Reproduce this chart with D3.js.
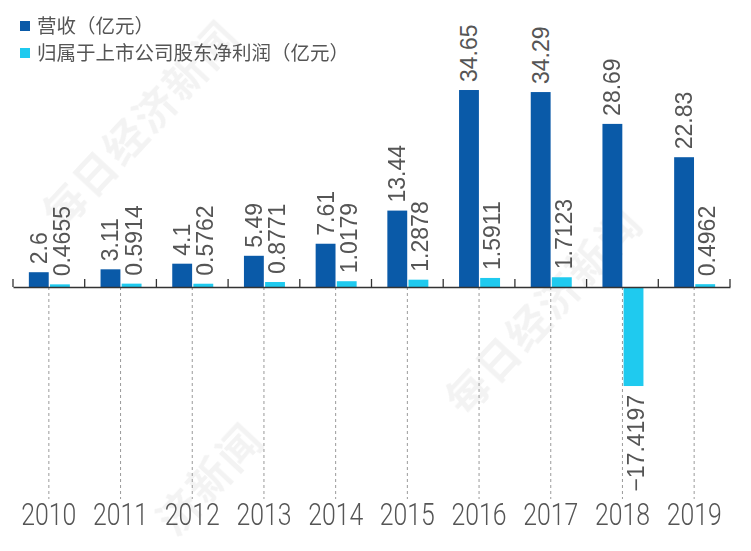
<!DOCTYPE html>
<html><head><meta charset="utf-8">
<script src="https://cdn.jsdelivr.net/npm/d3@7/dist/d3.min.js"></script>
<style>body{margin:0;background:#fff}svg{display:block}</style>
</head><body>
<svg id="chart" width="751" height="551"></svg>
<script>
const years = ["2010","2011","2012","2013","2014","2015","2016","2017","2018","2019"];
const revenue = [2.6, 3.11, 4.1, 5.49, 7.61, 13.44, 34.65, 34.29, 28.69, 22.83];
const netProfit = [0.4655, 0.5914, 0.5762, 0.8771, 1.0179, 1.2878, 1.5911, 1.7123, -17.4197, 0.4962];
const revenueLabels = ["2.6","3.11","4.1","5.49","7.61","13.44","34.65","34.29","28.69","22.83"];
const profitLabels = ["0.4655","0.5914","0.5762","0.8771","1.0179","1.2878","1.5911","1.7123","\u221217.4197","0.4962"];
const seriesNames = ["营收（亿元）","归属于上市公司股东净利润（亿元）"];
const colors = ["#0a5aa8","#1fcaef"];

const svg = d3.select("#chart");
const x = d3.scaleBand().domain(years).range([13, 730]).padding(0);
const y = d3.scaleLinear().domain([-20, 40]).range([400.7, 59.6]);
const keys = ["rev","np"];
const x1 = d3.scaleBand().domain(keys).range([-20, 21]).paddingInner(0.06);

const rows = years.map((yr, i) => ({year: yr, rev: revenue[i], np: netProfit[i], revL: revenueLabels[i], npL: profitLabels[i]}));
const cx = d => x(d) + x.bandwidth() / 2;

// watermark
const wm = svg.append("g").attr("fill", "#000").attr("opacity", 0.05)
  .attr("font-family", "'Noto Sans CJK SC'").attr("font-weight", "bold").attr("font-size", 42);
[[62, 232, "每日经济新闻"], [465, 418, "每日经济新闻"], [176, 538, "济新闻"]].forEach(p => {
  wm.append("text").attr("transform", `translate(${p[0]},${p[1]}) rotate(-47)`).attr("letter-spacing", 2).text(p[2]);
});

// dashed guide lines
svg.append("g").selectAll("line").data(years).join("line")
  .attr("x1", d => cx(d)).attr("x2", d => cx(d))
  .attr("y1", y(0)).attr("y2", 499)
  .attr("stroke", "#9a9a9a").attr("stroke-width", 1).attr("stroke-dasharray", "3,3");

// bars
const g = svg.append("g");
g.selectAll("rect.rev").data(rows).join("rect").attr("class", "rev")
  .attr("x", d => cx(d.year) + x1("rev")).attr("width", x1.bandwidth())
  .attr("y", d => y(Math.max(0, d.rev))).attr("height", d => Math.abs(y(d.rev) - y(0)))
  .attr("fill", colors[0]);
g.selectAll("rect.np").data(rows).join("rect").attr("class", "np")
  .attr("x", d => cx(d.year) + x1("np")).attr("width", x1.bandwidth())
  .attr("y", d => y(Math.max(0, d.np))).attr("height", d => Math.abs(y(d.np) - y(0)))
  .attr("fill", colors[1]);

// axis line and ticks
const axis = svg.append("g").attr("transform", `translate(0,${y(0)})`)
  .call(d3.axisTop(x).tickValues([]).tickSizeOuter(0));
axis.select(".domain").attr("stroke", "#333").attr("stroke-width", 1.3);
const bounds = years.map(d => x(d)).concat([x.range()[1]]);
svg.append("g").selectAll("line").data(bounds).join("line")
  .attr("x1", d => d).attr("x2", d => d).attr("y1", y(0) - 8).attr("y2", y(0))
  .attr("stroke", "#333").attr("stroke-width", 1.3);

// value labels
const lab = svg.append("g").attr("font-family", "'Liberation Sans', Arial, sans-serif")
  .attr("font-size", 23).attr("fill", "#555");
lab.selectAll("text.rl").data(rows).join("text").attr("class", "rl")
  .attr("transform", d => `translate(${cx(d.year) + x1("rev") + x1.bandwidth()/2 + 8},${y(d.rev) - 8}) rotate(-90)`)
  .text(d => d.revL);
lab.selectAll("text.pl").data(rows).join("text").attr("class", "pl")
  .attr("text-anchor", d => d.np < 0 ? "end" : "start")
  .attr("transform", d => `translate(${cx(d.year) + x1("np") + x1.bandwidth()/2 + 10},${d.np < 0 ? y(d.np) + 9 : y(d.np) - 8}) rotate(-90)`)
  .text(d => d.npL);

// year labels
svg.append("g").selectAll("text").data(years).join("text")
  .attr("transform", d => `translate(${cx(d)},525) scale(0.8,1)`).attr("text-anchor", "middle")
  .attr("font-family", "Roboto, 'Liberation Sans', sans-serif").attr("font-weight", 300)
  .attr("font-size", 31).attr("fill", "#555").text(d => d);

// legend
const leg = svg.append("g");
seriesNames.forEach((n, i) => {
  leg.append("rect").attr("x", 20).attr("y", 21 + i * 27).attr("width", 10).attr("height", 10).attr("fill", colors[i]);
  leg.append("text").attr("x", 37).attr("y", 33 + i * 27)
    .attr("font-family", "'Noto Sans CJK SC', sans-serif").attr("font-size", 19.5).attr("fill", "#555").text(n);
});
</script>
</body></html>
